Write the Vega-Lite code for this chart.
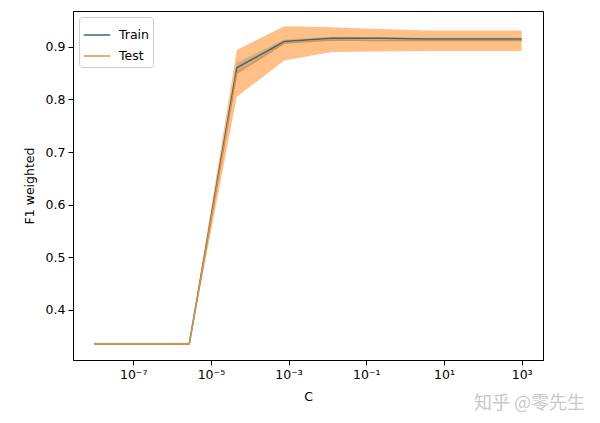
{
  "$schema": "https://vega.github.io/schema/vega-lite/v6.json",
  "description": "F1 weighted score against regularisation C, train and test, with std bands.",
  "autosize": {"type": "none"},
  "padding": {"left": 73, "top": 11, "right": 57, "bottom": 63},
  "width": 470,
  "height": 349,
  "background": "white",
  "title": {
    "text": "知乎 @零先生",
    "orient": "bottom",
    "anchor": "end",
    "font": "Noto Sans CJK SC",
    "fontSize": 18,
    "fontWeight": "normal",
    "color": "#c8c8c8",
    "dx": 42,
    "offset": -8
  },
  "data": {
    "values": [
      {"set": "Train", "C": 1e-8, "mean": 0.336, "lo": 0.335, "hi": 0.337},
      {"set": "Train", "C": 1.6681e-7, "mean": 0.336, "lo": 0.335, "hi": 0.337},
      {"set": "Train", "C": 2.7826e-6, "mean": 0.336, "lo": 0.335, "hi": 0.337},
      {"set": "Train", "C": 4.6416e-5, "mean": 0.86, "lo": 0.85, "hi": 0.87},
      {"set": "Train", "C": 7.7426e-4, "mean": 0.91, "lo": 0.906, "hi": 0.914},
      {"set": "Train", "C": 1.2915e-2, "mean": 0.916, "lo": 0.913, "hi": 0.919},
      {"set": "Train", "C": 0.21544, "mean": 0.916, "lo": 0.914, "hi": 0.918},
      {"set": "Train", "C": 3.5938, "mean": 0.915, "lo": 0.913, "hi": 0.917},
      {"set": "Train", "C": 59.948, "mean": 0.915, "lo": 0.913, "hi": 0.917},
      {"set": "Train", "C": 1000, "mean": 0.915, "lo": 0.913, "hi": 0.917},
      {"set": "Test", "C": 1e-8, "mean": 0.336, "lo": 0.334, "hi": 0.338},
      {"set": "Test", "C": 1.6681e-7, "mean": 0.336, "lo": 0.334, "hi": 0.338},
      {"set": "Test", "C": 2.7826e-6, "mean": 0.336, "lo": 0.334, "hi": 0.338},
      {"set": "Test", "C": 4.6416e-5, "mean": 0.85, "lo": 0.805, "hi": 0.894},
      {"set": "Test", "C": 7.7426e-4, "mean": 0.907, "lo": 0.874, "hi": 0.939},
      {"set": "Test", "C": 1.2915e-2, "mean": 0.913, "lo": 0.89, "hi": 0.937},
      {"set": "Test", "C": 0.21544, "mean": 0.912, "lo": 0.891, "hi": 0.934},
      {"set": "Test", "C": 3.5938, "mean": 0.912, "lo": 0.892, "hi": 0.931},
      {"set": "Test", "C": 59.948, "mean": 0.912, "lo": 0.892, "hi": 0.931},
      {"set": "Test", "C": 1000, "mean": 0.912, "lo": 0.892, "hi": 0.931}
    ]
  },
  "encoding": {
    "x": {
      "field": "C",
      "type": "quantitative",
      "scale": {"type": "log", "domain": [2.818e-9, 3548], "nice": false},
      "axis": {
        "title": "C",
        "values": [1e-7, 1e-5, 1e-3, 1e-1, 10, 1000],
        "labelExpr": "'10' + (round(log(datum.value)/LN10) == -7 ? '⁻⁷' : round(log(datum.value)/LN10) == -5 ? '⁻⁵' : round(log(datum.value)/LN10) == -3 ? '⁻³' : round(log(datum.value)/LN10) == -1 ? '⁻¹' : round(log(datum.value)/LN10) == 1 ? '¹' : '³')",
        "titlePadding": 10
      }
    }
  },
  "layer": [
    {
      "transform": [{"filter": "datum.set == 'Train'"}],
      "mark": {"type": "area", "color": "#1f77b4", "opacity": 0.3},
      "encoding": {
        "y": {"field": "lo", "type": "quantitative"},
        "y2": {"field": "hi"}
      }
    },
    {
      "transform": [{"filter": "datum.set == 'Test'"}],
      "mark": {"type": "area", "color": "#ff7f0e", "opacity": 0.5},
      "encoding": {
        "y": {"field": "lo", "type": "quantitative"},
        "y2": {"field": "hi"}
      }
    },
    {
      "mark": {"type": "line", "strokeWidth": 1.5},
      "encoding": {
        "y": {
          "field": "mean",
          "type": "quantitative",
          "scale": {"domain": [0.305, 0.968], "nice": false, "zero": false},
          "axis": {
            "title": "F1 weighted",
            "values": [0.4, 0.5, 0.6, 0.7, 0.8, 0.9],
            "format": ".1f",
            "titlePadding": 9
          }
        },
        "color": {
          "field": "set",
          "type": "nominal",
          "scale": {"domain": ["Train", "Test"], "range": ["#3a6880", "#d4924a"]},
          "legend": {
            "title": null,
            "orient": "top-left",
            "offset": 6,
            "symbolType": "stroke",
            "symbolStrokeWidth": 1.5,
            "symbolSize": 700,
            "labelFontSize": 12.5,
            "labelFont": "DejaVu Sans",
            "labelColor": "black",
            "labelOffset": 8,
            "fillColor": "white",
            "strokeColor": "#cccccc",
            "cornerRadius": 3,
            "padding": 4,
            "rowPadding": -7
          }
        },
        "order": {"field": "C"}
      }
    }
  ],
  "config": {
    "view": {"stroke": "black", "strokeWidth": 1},
    "axis": {
      "grid": false,
      "domainColor": "black",
      "tickColor": "black",
      "tickSize": 5,
      "labelFont": "DejaVu Sans",
      "labelFontSize": 12.5,
      "labelColor": "black",
      "titleFont": "DejaVu Sans",
      "titleFontSize": 12.5,
      "titleFontWeight": "normal",
      "titleColor": "black",
      "labelPadding": 3
    }
  }
}
